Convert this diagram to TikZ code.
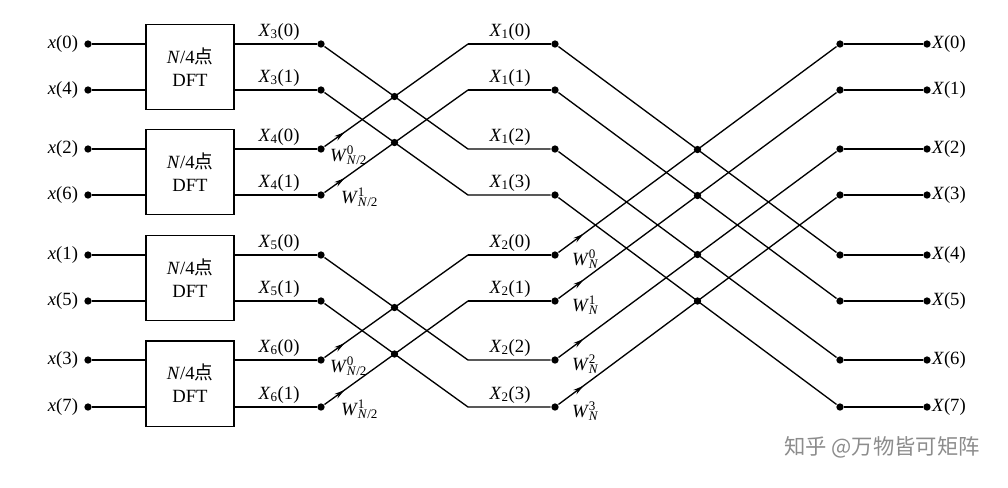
\documentclass[tikz,border=0pt]{standalone}
\usepackage{fontspec}
\setmainfont{Liberation Serif}
\newfontfamily\cjk{Noto Sans CJK SC}
\usetikzlibrary{arrows.meta,decorations.markings,calc}
\newcommand\wlab[2]{\textit{W}\rlap{\textsuperscript{#1}}\textsubscript{#2}}
\begin{document}
\begin{tikzpicture}[x=0.75pt,y=-0.75pt,line width=1pt,
  dot/.style={circle,fill=black,inner sep=0pt,minimum size=5.5pt},
  lbl/.style={font=\fontsize{14}{16}\selectfont,inner sep=1pt},
  dftbox/.style={draw,minimum width=66pt,minimum height=64pt,align=center,font=\fontsize{14}{17}\selectfont},
  warr/.style={postaction={decorate},decoration={markings,mark=at position #1 with {\arrow{Stealth[length=8pt,width=4pt]}}}}]
\useasboundingbox (0,0) rectangle (1008,487);
\def\rows{44,90,149,195,255,301,360,407}
\foreach \y [count=\i from 0] in \rows {
  \node[dot] (in\i) at (88,\y) {};
  \node[dot] (a\i) at (321,\y) {};
  \coordinate (b\i) at (468,\y);
  \node[dot] (m\i) at (555,\y) {};
  \node[dot] (o\i) at (840,\y) {};
  \node[dot] (e\i) at (927,\y) {};
}
% inputs
\foreach \k [count=\i from 0] in {0,4,2,6,1,5,3,7}
  \node[lbl,anchor=east] at ($(in\i)+(-8,0)$) {\textit{x}(\k)};
% boxes
\foreach \ya/\yb [count=\n from 0] in {44/90,149/195,255/301,360/407}{
  \node[dftbox] (box\n) at (190,{(\ya+\yb)/2}) {\textit{N}/4{\cjk 点}\\DFT};
}
\foreach \i in {0,...,7}{
  \draw (in\i) -- (in\i -| box0.west);
  \draw (in\i -| box0.east) -- (a\i);
  \draw (e\i) -- (o\i);
}
\foreach \s/\t/\i in {3/0/0,3/1/1,4/0/2,4/1/3,5/0/4,5/1/5,6/0/6,6/1/7}
  \node[lbl,anchor=south] at ($(a\i)+(-42,-2)$) {\textit{X}\textsubscript{\s}(\t)};
\foreach \s/\t/\i in {1/0/0,1/1/1,1/2/2,1/3/3,2/0/4,2/1/5,2/2/6,2/3/7}
  \node[lbl,anchor=south] at ($(m\i)+(-45,-2)$) {\textit{X}\textsubscript{\s}(\t)};
% stage 1
\foreach \k in {0,4}{
  \pgfmathtruncatemacro\ka{\k+1}\pgfmathtruncatemacro\kb{\k+2}\pgfmathtruncatemacro\kc{\k+3}
  \draw (a\k) -- (b\kb) -- (m\kb);
  \draw (a\ka) -- (b\kc) -- (m\kc);
  \draw[warr=0.14] (a\kb) -- (b\k); \draw (b\k) -- (m\k);
  \draw[warr=0.14] (a\kc) -- (b\ka); \draw (b\ka) -- (m\ka);
  \node[dot] at ($(a\k)!0.5!(b\kb)$) {};
  \node[dot] at ($(a\ka)!0.5!(b\kc)$) {};
  \node[lbl,anchor=west] at ($(a\kb)+(7,6)$) {\wlab{0}{\textit{N}/2}};
  \node[lbl,anchor=west] at ($(a\kc)+(18,2)$) {\wlab{1}{\textit{N}/2}};
}
% stage 2
\foreach \i in {0,...,3}{
  \pgfmathtruncatemacro\j{\i+4}
  \draw (m\i) -- (o\j);
  \draw[warr=0.09] (m\j) -- (o\i);
  \node[dot] at ($(m\i)!0.5!(o\j)$) {};
  \node[lbl,anchor=west] at ($(m\j)+(15,4)$) {\wlab{\i}{\textit{N}}};
}
\foreach \i in {0,...,7}
  \node[lbl,anchor=west] at ($(e\i)+(3,0)$) {\textit{X}(\i)};
\node[font=\fontsize{16}{18}\selectfont\cjk,text=black!45,anchor=east] at (985,447) {知乎 @万物皆可矩阵};
\end{tikzpicture}
\end{document}
